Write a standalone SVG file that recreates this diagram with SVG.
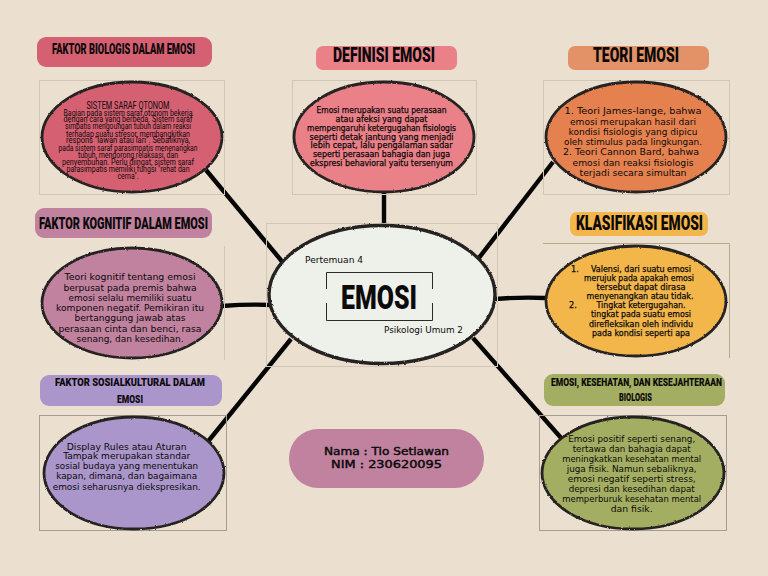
<svg xmlns="http://www.w3.org/2000/svg" width="768" height="576" viewBox="0 0 768 576">
<style>
.box{fill:none;stroke:#d2c6b4;stroke-width:1}
.bub{stroke:#262422;stroke-width:2.8;filter:url(#rough)}
.hd{filter:url(#soft)}
.c{fill:none;stroke:#050505;stroke-width:4.4;stroke-linecap:butt}
text{fill:#0c0a0a;text-anchor:middle;font-family:"DejaVu Sans","Lato",sans-serif;font-size:9px;font-weight:400}
.t{font-family:"Roboto","Liberation Sans",sans-serif;font-weight:900;font-size:14px}
.b{font-size:8.2px;stroke:#0c0a0a;stroke-width:.25}
.bio{font-family:"Roboto","Liberation Sans",sans-serif;font-weight:400;font-size:8.6px}
.n{font-size:11px;stroke:#0c0a0a;stroke-width:.45}
</style>
<defs>
<filter id="rough" x="-8%" y="-8%" width="116%" height="116%"><feTurbulence type="fractalNoise" baseFrequency="0.45" numOctaves="2" seed="4"/><feDisplacementMap in="SourceGraphic" scale="2.2" xChannelSelector="R" yChannelSelector="G"/></filter>
<filter id="soft" x="-8%" y="-20%" width="116%" height="140%"><feTurbulence type="fractalNoise" baseFrequency="0.03" numOctaves="1" seed="11"/><feDisplacementMap in="SourceGraphic" scale="1" xChannelSelector="R" yChannelSelector="G"/></filter>
</defs>
<rect width="768" height="576" fill="#ebe0d0"/>
<g id="connectors">
<path class="c" d="M206 170L285 265"/>
<path class="c" d="M384 193L384 228"/>
<path class="c" d="M553 162L475 263"/>
<path class="c" d="M222 306Q248 304 272 305"/>
<path class="c" d="M495 299Q520 297 545 298"/>
<path class="c" d="M206 444L291 339"/>
<path class="c" d="M562 439L473 338"/>
</g>
<g id="node-biologis">
<rect class="box" x="39.500" y="80.500" width="185" height="114"/>
<rect class="hd" x="37" y="37" width="175" height="30" rx="9" fill="#d56072"/>
<text class="t" x="123.500" y="54.300" textLength="143" lengthAdjust="spacingAndGlyphs">FAKTOR BIOLOGIS DALAM EMOSI</text>
<ellipse class="bub" cx="132" cy="137" rx="90" ry="55" fill="#d56072"/>
<text class="bio" x="128" y="109.300" style="font-size:10px" textLength="83" lengthAdjust="spacingAndGlyphs">SISTEM SARAF OTONOM</text>
<text class="bio" x="128" y="115.500" textLength="129" lengthAdjust="spacingAndGlyphs">Bagian pada sistem saraf otonom bekerja</text>
<text class="bio" x="128" y="122" textLength="129" lengthAdjust="spacingAndGlyphs">dengan cara yang berbeda. Sistem saraf</text>
<text class="bio" x="128" y="129" textLength="126" lengthAdjust="spacingAndGlyphs">simpatis mengoungan tubuh dalam reaksi</text>
<text class="bio" x="128" y="136.700" textLength="124" lengthAdjust="spacingAndGlyphs">terhadap suatu stresor, membangkitkan</text>
<text class="bio" x="128" y="143.300" textLength="124" lengthAdjust="spacingAndGlyphs">respons "lawan atau lari". Sebaliknya,</text>
<text class="bio" x="128" y="150.700" textLength="139" lengthAdjust="spacingAndGlyphs">pada sistem saraf parasimpatis menenangkan</text>
<text class="bio" x="128" y="158.300" textLength="100" lengthAdjust="spacingAndGlyphs">tubuh, mendorong relaksasi, dan</text>
<text class="bio" x="128" y="165" textLength="132" lengthAdjust="spacingAndGlyphs">penyembuhan. Perlu diingat, sistem saraf</text>
<text class="bio" x="128" y="172" textLength="123" lengthAdjust="spacingAndGlyphs">parasimpatis memiliki fungsi "rehat dan</text>
<text class="bio" x="128" y="179" textLength="21" lengthAdjust="spacingAndGlyphs">cerna".</text>
</g>
<g id="node-definisi">
<rect class="box" x="292.500" y="80.500" width="184" height="114"/>
<rect class="hd" x="316" y="46" width="141" height="24" rx="7" fill="#ea8088"/>
<text class="t" x="384" y="62" style="font-size:20px" textLength="102" lengthAdjust="spacingAndGlyphs">DEFINISI EMOSI</text>
<ellipse class="bub" cx="384" cy="137" rx="90" ry="55" fill="#ea8088"/>
<text class="b" x="381.500" y="112.700" textLength="130" lengthAdjust="spacingAndGlyphs">Emosi merupakan suatu perasaan</text>
<text class="b" x="381.500" y="121.700" textLength="92" lengthAdjust="spacingAndGlyphs">atau afeksi yang dapat</text>
<text class="b" x="381.500" y="130.700" textLength="149" lengthAdjust="spacingAndGlyphs">mempengaruhi ketergugahan fisiologis</text>
<text class="b" x="381.500" y="139.700" textLength="144" lengthAdjust="spacingAndGlyphs">seperti detak jantung yang menjadi</text>
<text class="b" x="381.500" y="148" textLength="142" lengthAdjust="spacingAndGlyphs">lebih cepat, lalu  pengalaman sadar</text>
<text class="b" x="381.500" y="157" textLength="137" lengthAdjust="spacingAndGlyphs">seperti perasaan bahagia dan juga</text>
<text class="b" x="381.500" y="165.700" textLength="143" lengthAdjust="spacingAndGlyphs">ekspresi behavioral yaitu tersenyum</text>
</g>
<g id="node-teori">
<rect class="box" x="543.500" y="80.500" width="186" height="114"/>
<rect class="hd" x="568" y="46" width="141" height="24" rx="7" fill="#e39268"/>
<text class="t" x="636" y="62" style="font-size:20px" textLength="86" lengthAdjust="spacingAndGlyphs">TEORI EMOSI</text>
<ellipse class="bub" cx="636" cy="137" rx="90" ry="55" fill="#e58150"/>
<text x="633" y="114" textLength="137" lengthAdjust="spacingAndGlyphs">1. Teori James-lange, bahwa</text>
<text x="633" y="124.700" textLength="126" lengthAdjust="spacingAndGlyphs">emosi merupakan hasil dari</text>
<text x="633" y="134.700" textLength="129" lengthAdjust="spacingAndGlyphs">kondisi fisiologis yang dipicu</text>
<text x="633" y="144.700" textLength="138" lengthAdjust="spacingAndGlyphs">oleh stimulus pada lingkungan.</text>
<text x="631" y="155.300" textLength="136" lengthAdjust="spacingAndGlyphs">2. Teori Cannon Bard, bahwa</text>
<text x="633" y="165.700" textLength="121" lengthAdjust="spacingAndGlyphs">emosi dan reaksi fisiologis</text>
<text x="633" y="175.700" textLength="107" lengthAdjust="spacingAndGlyphs">terjadi secara simultan</text>
</g>
<g id="node-kognitif">
<path class="box" d="M224.500 246V360"/>
<rect class="hd" x="35" y="208" width="177" height="30" rx="9" fill="#c0829f"/>
<text class="t" x="123.500" y="229" style="font-size:17px" textLength="169" lengthAdjust="spacingAndGlyphs">FAKTOR KOGNITIF DALAM EMOSI</text>
<ellipse class="bub" cx="132" cy="303" rx="90" ry="55" fill="#c0829f"/>
<text x="130" y="280" textLength="131" lengthAdjust="spacingAndGlyphs">Teori kognitif tentang emosi</text>
<text x="130" y="290.700" textLength="133" lengthAdjust="spacingAndGlyphs">berpusat pada premis bahwa</text>
<text x="130" y="300.700" textLength="123" lengthAdjust="spacingAndGlyphs">emosi selalu memiliki suatu</text>
<text x="130" y="310.700" textLength="148" lengthAdjust="spacingAndGlyphs">komponen negatif. Pemikiran itu</text>
<text x="130" y="321.300" textLength="111" lengthAdjust="spacingAndGlyphs">bertanggung jawab atas</text>
<text x="130" y="331.700" textLength="143" lengthAdjust="spacingAndGlyphs">perasaan cinta dan benci, rasa</text>
<text x="130" y="341.700" textLength="107" lengthAdjust="spacingAndGlyphs">senang, dan kesedihan.</text>
</g>
<g id="node-klasifikasi">
<path class="box" d="M543 243.500H729.500V358" style="stroke:#b8a888"/>
<rect class="hd" x="570" y="212" width="138" height="24" rx="7" fill="#f2b64b"/>
<text class="t" x="639.500" y="230" style="font-size:20px" textLength="127" lengthAdjust="spacingAndGlyphs">KLASIFIKASI EMOSI</text>
<ellipse class="bub" cx="636" cy="301" rx="90" ry="55" fill="#f2b64b"/>
<text class="b" x="575" y="271.700">1.</text>
<text class="b" x="641" y="271.700" textLength="100" lengthAdjust="spacingAndGlyphs">Valensi, dari suatu emosi</text>
<text class="b" x="639" y="281" textLength="110" lengthAdjust="spacingAndGlyphs">merujuk pada apakah emosi</text>
<text class="b" x="641" y="290" textLength="89" lengthAdjust="spacingAndGlyphs">tersebut dapat dirasa</text>
<text class="b" x="640" y="299" textLength="107" lengthAdjust="spacingAndGlyphs">menyenangkan  atau tidak.</text>
<text class="b" x="573" y="307.700">2.</text>
<text class="b" x="641" y="307.700" textLength="89" lengthAdjust="spacingAndGlyphs">Tingkat ketergugahan.</text>
<text class="b" x="641" y="317.300" textLength="100" lengthAdjust="spacingAndGlyphs">tingkat pada suatu emosi</text>
<text class="b" x="641" y="326.700" textLength="104" lengthAdjust="spacingAndGlyphs">direfleksikan oleh individu</text>
<text class="b" x="641" y="335.700" textLength="98" lengthAdjust="spacingAndGlyphs">pada kondisi seperti apa</text>
</g>
<g id="node-sosial">
<rect class="box" x="39.500" y="415.500" width="187" height="115" style="stroke:#a89c90"/>
<rect class="hd" x="40" y="375" width="182" height="31" rx="9" fill="#ab96cc"/>
<text class="t" x="130" y="386" style="font-size:11px" textLength="150" lengthAdjust="spacingAndGlyphs">FAKTOR SOSIALKULTURAL DALAM</text>
<text class="t" x="130" y="403" style="font-size:11px" textLength="26" lengthAdjust="spacingAndGlyphs">EMOSI</text>
<ellipse class="bub" cx="134" cy="473" rx="90" ry="56" fill="#ab96cc"/>
<text x="126.700" y="449.700" textLength="120" lengthAdjust="spacingAndGlyphs">Display Rules atau Aturan</text>
<text x="126.700" y="459" textLength="127" lengthAdjust="spacingAndGlyphs">Tampak merupakan standar</text>
<text x="126.700" y="469" textLength="143" lengthAdjust="spacingAndGlyphs">sosial budaya yang menentukan</text>
<text x="126.700" y="479.300" textLength="141" lengthAdjust="spacingAndGlyphs">kapan, dimana, dan bagaimana</text>
<text x="126.700" y="490" textLength="148" lengthAdjust="spacingAndGlyphs">emosi seharusnya diekspresikan.</text>
</g>
<g id="node-kesehatan">
<rect class="box" x="539.500" y="415.500" width="187" height="115" style="stroke:#a89c90"/>
<rect class="hd" x="544" y="374" width="181" height="32" rx="9" fill="#a3ae62"/>
<text class="t" x="636.500" y="386" style="font-size:10px" textLength="171" lengthAdjust="spacingAndGlyphs">EMOSI, KESEHATAN, DAN KESEJAHTERAAN</text>
<text class="t" x="635.500" y="400.700" style="font-size:10px" textLength="33" lengthAdjust="spacingAndGlyphs">BIOLOGIS</text>
<ellipse class="bub" cx="633" cy="473" rx="91" ry="56" fill="#a3ae62"/>
<text x="631.700" y="442.300" textLength="127" lengthAdjust="spacingAndGlyphs">Emosi positif seperti senang,</text>
<text x="631.700" y="452.300" textLength="118" lengthAdjust="spacingAndGlyphs">tertawa dan bahagia dapat</text>
<text x="631.700" y="462.300" textLength="139" lengthAdjust="spacingAndGlyphs">meningkatkan kesehatan mental</text>
<text x="631.700" y="472.300" textLength="130" lengthAdjust="spacingAndGlyphs">juga fisik. Namun sebaliknya,</text>
<text x="631.700" y="482.300" textLength="128" lengthAdjust="spacingAndGlyphs">emosi negatif seperti stress,</text>
<text x="631.700" y="491.700" textLength="126" lengthAdjust="spacingAndGlyphs">depresi dan kesedihan dapat</text>
<text x="631.700" y="501.700" textLength="139" lengthAdjust="spacingAndGlyphs">memperburuk kesehatan mental</text>
<text x="631.700" y="511.700" textLength="42" lengthAdjust="spacingAndGlyphs">dan fisik.</text>
</g>
<g id="node-emosi">
<rect class="box" x="266.500" y="223.500" width="231" height="143"/>
<ellipse class="bub" cx="382" cy="294.500" rx="113" ry="69" fill="#eef0ea" style="stroke-width:3.4"/>
<path d="M326.500 289V272.500H432.500V289M326.500 303V320.500H432.500V303" fill="none" stroke="#2a2a2a" stroke-width="1"/>
<text class="t" x="379" y="309" style="font-size:34px" textLength="76" lengthAdjust="spacingAndGlyphs">EMOSI</text>
<text x="334" y="263" textLength="58" lengthAdjust="spacingAndGlyphs">Pertemuan 4</text>
<text x="423.500" y="333" textLength="79" lengthAdjust="spacingAndGlyphs">Psikologi Umum 2</text>
</g>
<g id="node-nama">
<rect x="289" y="429" width="195" height="59" rx="29" fill="#c0829f"/>
<text class="n" x="386.500" y="455" textLength="125" lengthAdjust="spacingAndGlyphs">Nama : Tio Setiawan</text>
<text class="n" x="386.500" y="468" textLength="111" lengthAdjust="spacingAndGlyphs">NIM : 230620095</text>
</g>
</svg>
